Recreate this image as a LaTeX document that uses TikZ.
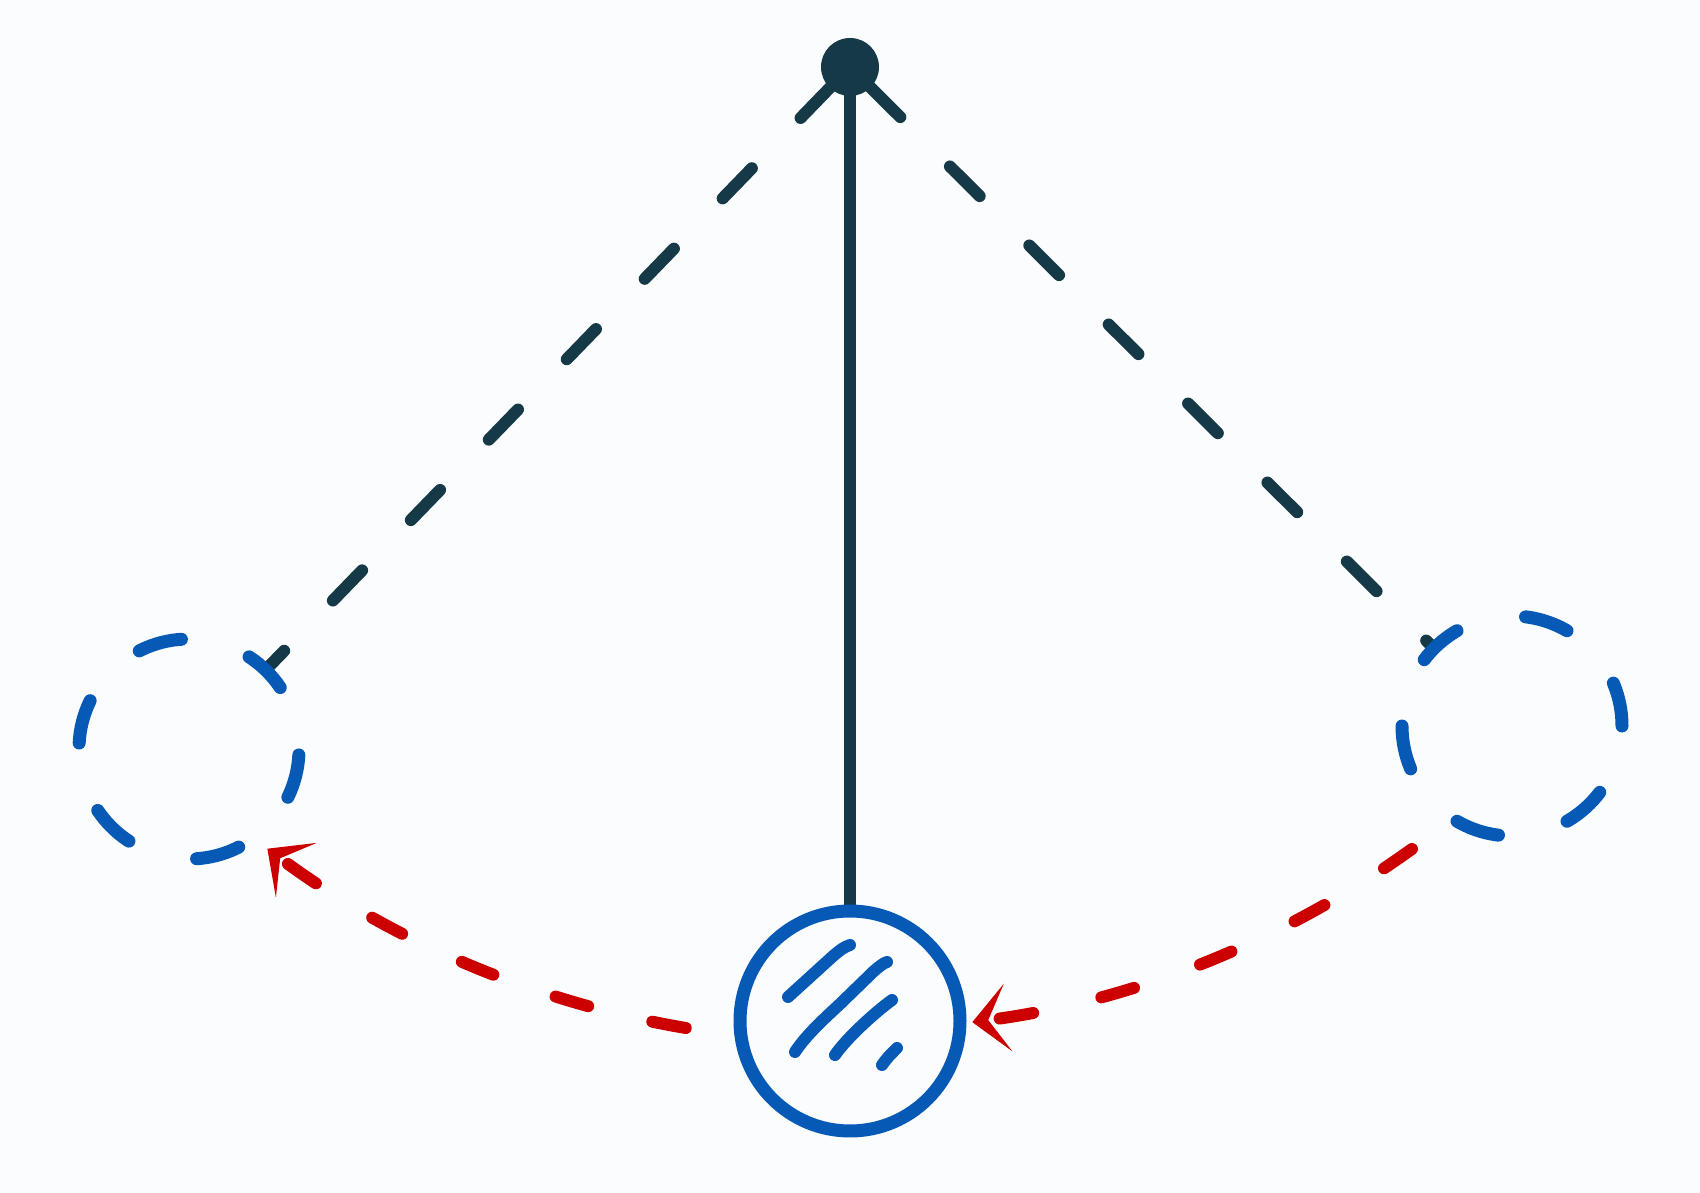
\documentclass[tikz,border=0pt]{standalone}
\usepackage[x11names, rgb]{xcolor}
\usepackage{tikz}
\usetikzlibrary{arrows.meta,backgrounds}

\definecolor{rodcol}{RGB}{22,57,72}
\definecolor{bobcol}{RGB}{6,89,181}
\definecolor{swingcol}{RGB}{204,0,0}
\definecolor{bgcol}{RGB}{251,252,253}

\begin{document}
\begin{tikzpicture}[>={Stealth[length=18bp,width=34bp,inset=10bp]},line join=bevel,line cap=round,
  pivotdot/.style={circle,fill=rodcol,inner sep=0pt,outer sep=0pt,minimum size=29bp},
  bob/.style={circle,draw=bobcol,line width=6.5bp,line cap=round,inner sep=0pt,outer sep=0pt,minimum size=110bp},
  ghostbob/.style={bob,dash pattern=on 22bp off 35.6bp},
  rod/.style={draw=rodcol,line width=6bp,line cap=round},
  ghostrod/.style={rod,dash pattern=on 21bp off 35bp},
  swing/.style={draw=swingcol,line width=6bp,line cap=round,dash pattern=on 17bp off 35bp,->},
  hatch/.style={draw=bobcol,line width=6bp,line cap=round}]
\useasboundingbox (0bp,0bp) rectangle (850bp,596.5bp);
%%
  % Node: pivot
  \node[pivotdot] (pivot) at (425bp,563bp) {};
  % Node: bob
  \node[bob] (bob) at (425bp,86bp) {};
  % Node: left
  \node[ghostbob,dash phase=25bp] (left) at (94.5bp,222bp) {};
  % Node: right
  \node[ghostbob] (right) at (756bp,233.5bp) {};
  % shading strokes on the bob
\begin{scope}[shift={(bob.center)}]
  \draw[hatch] (-31bp,12bp) -- (-9bp,32bp) .. controls (-5bp,35.5bp) and (-3bp,37bp) .. (0bp,38bp);
  \draw[hatch] (-27.5bp,-15.5bp) .. controls (-22bp,-7bp) and (-12bp,2bp) .. (-5bp,8.5bp) -- (12bp,25bp) .. controls (15bp,27.5bp) and (16.5bp,28.8bp) .. (18.5bp,29.5bp);
  \draw[hatch] (-7.5bp,-17bp) .. controls (-2bp,-9bp) and (12bp,4bp) .. (21bp,10.5bp);
  \draw[hatch] (16bp,-22bp) .. controls (19bp,-18bp) .. (23.5bp,-13.5bp);
\end{scope}
%
\begin{scope}[on background layer]
  \fill[bgcol] (0bp,0bp) rectangle (850bp,596.5bp);
  % Edge: pivot -> bob
  \draw[rod] (pivot) -- (bob);
  % Edge: pivot -> left
  \draw[ghostrod] (pivot) -- (left);
  % Edge: pivot -> right
  \draw[ghostrod] (pivot) -- (right);
  % Edge: right -> bob
  \draw[swing] (pivot.center) ++(305.7:481.5bp) arc[start angle=305.7,end angle=277.3,radius=481.5bp];
  % Edge: bob -> left
  \draw[swing,dash pattern=on 17bp off 33bp] (pivot.center) ++(260.3:487.5bp) arc[start angle=260.3,end angle=233.3,radius=487.5bp];
\end{scope}
%
\end{tikzpicture}
\end{document}
